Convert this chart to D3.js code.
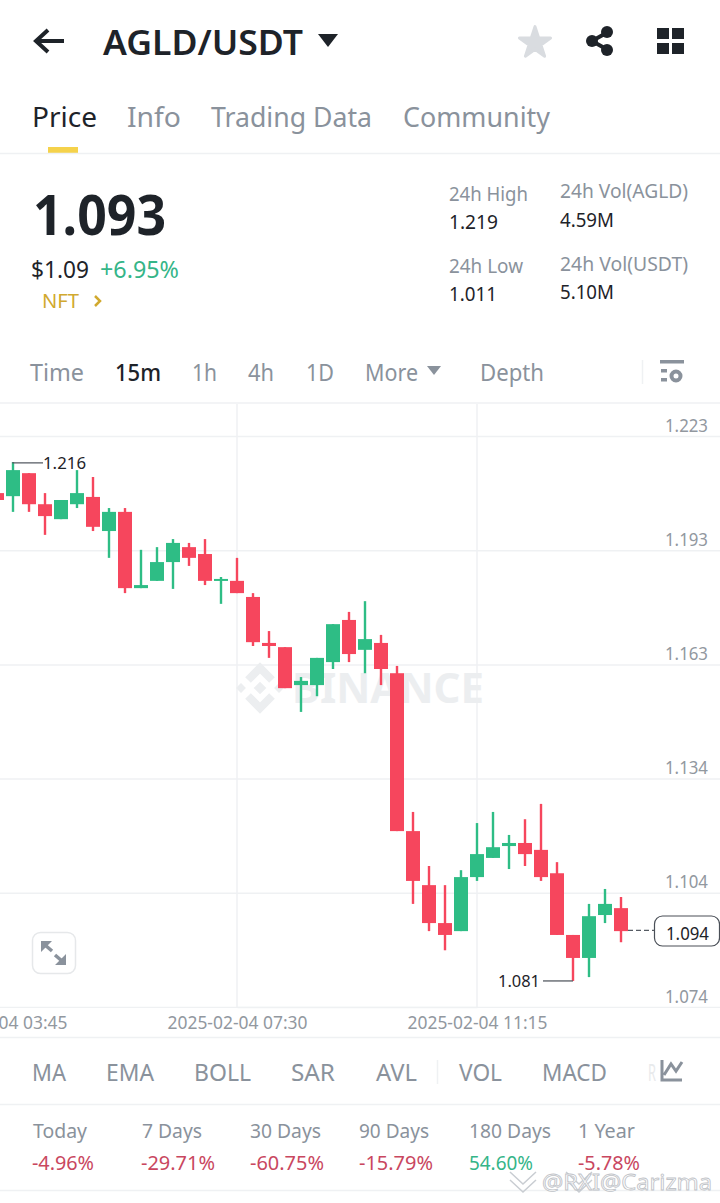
<!DOCTYPE html>
<html>
<head>
<meta charset="utf-8">
<style>
html, body { margin: 0; padding: 0; background: #fff; }
svg { display: block; }
text { font-family: "Noto Sans", sans-serif; }
</style>
<script src="https://cdn.jsdelivr.net/npm/d3@7"></script>
</head>
<body>
<div id="chart"></div>
<script>
// candles, 15m apart
const startTime = "2025-02-04T03:45:00Z";
const opens = [1.2081,1.2073,1.2133,1.2052,1.2013,1.2052,1.2071,1.1982,1.2032,1.1833,1.1852,1.1901,1.1940,1.1922,1.1852,1.1852,1.1810,1.1690,1.1679,1.1580,1.1580,1.1640,1.1750,1.1672,1.1690,1.1611,1.1199,1.1058,1.0959,1.0938,1.1079,1.1129,1.1160,1.1168,1.1150,1.1089,1.0928,1.0868,1.0980,1.0998];
const closes = [1.2063,1.2141,1.2052,1.2021,1.2063,1.2081,1.1993,1.2032,1.1833,1.1841,1.1901,1.1951,1.1912,1.1852,1.1857,1.1820,1.1692,1.1682,1.1572,1.1591,1.1651,1.1739,1.1661,1.1700,1.1622,1.1199,1.1069,1.0959,1.0928,1.1079,1.1139,1.1157,1.1168,1.1139,1.1079,1.0928,1.0868,1.0977,1.1009,1.0938];
const highs = [1.2081,1.2162,1.2133,1.2081,1.2063,1.2141,1.2123,1.2042,1.2042,1.1933,1.1940,1.1961,1.1951,1.1961,1.1862,1.1912,1.1820,1.1721,1.1679,1.1601,1.1651,1.1739,1.1771,1.1799,1.1711,1.1630,1.1249,1.1108,1.1058,1.1097,1.1220,1.1249,1.1189,1.1230,1.1270,1.1118,1.0928,1.1009,1.1048,1.1027];
const lows = [1.2063,1.2032,1.2032,1.1972,1.2013,1.2042,1.1982,1.1912,1.1820,1.1833,1.1852,1.1831,1.1891,1.1841,1.1792,1.1820,1.1682,1.1651,1.1572,1.1510,1.1551,1.1622,1.1640,1.1611,1.1580,1.1199,1.1009,1.0938,1.0888,1.0938,1.1069,1.1129,1.1100,1.1108,1.1069,1.0928,1.0808,1.0818,1.0959,1.0909];

const priceTicks = [1.223,1.1932,1.1634,1.1336,1.1038,1.074];
const timeTicks = ["2025-02-04T03:45:00Z","2025-02-04T07:30:00Z","2025-02-04T11:15:00Z"];
const lastPrice = 1.094;
const maxMark = 1.216;
const minMark = 1.081;

const navTabs = ["Price","Info","Trading Data","Community"];
const intervals = ["Time","15m","1h","4h","1D","More","Depth"];
const indicators = ["MA","EMA","BOLL","SAR","AVL","VOL","MACD"];
const periods = ["Today","7 Days","30 Days","90 Days","180 Days","1 Year"];
const periodChanges = ["-4.96%","-29.71%","-60.75%","-15.79%","54.60%","-5.78%"];

const width = 720, height = 1203;
const UP = "#2ebd85", DOWN = "#f6465d", INK = "#1e2329", GREY = "#8a929c", AXIS = "#92989f", LINE = "#eff1f3";

const svg = d3.select("#chart").append("svg").attr("width", width).attr("height", height);
svg.append("rect").attr("width", width).attr("height", height).attr("fill", "#fff");

// text helper, w = target width so the fallback font lands where the original did
function label(x, y, str, size, fill, w, weight, anchor) {
	const t = svg.append("text").attr("x", x).attr("y", y).attr("font-size", size).attr("fill", fill).text(str);
	if (w) t.attr("textLength", w).attr("lengthAdjust", "spacingAndGlyphs");
	if (weight) t.attr("font-weight", weight);
	if (anchor) t.attr("text-anchor", anchor);
	return t;
}
function hline(y) {
	svg.append("line").attr("x1", 0).attr("x2", width).attr("y1", y).attr("y2", y).attr("stroke", LINE).attr("stroke-width", 1.5);
}

// header
svg.append("path").attr("d", "M64 41H37M48 30L36 41L48 52").attr("fill", "none").attr("stroke", INK).attr("stroke-width", 4);
label(103, 55, "AGLD/USDT", 35, INK, 200, 600);
svg.append("path").attr("d", "M318 34H338L328 47Z").attr("fill", INK);
svg.append("path").attr("d", d3.symbol(d3.symbolStar, 300)()).attr("transform", "translate(535,43)")
	.attr("fill", "#d9dce0").attr("stroke", "#d9dce0").attr("stroke-width", 3).attr("stroke-linejoin", "round");
svg.append("path").attr("d", "M608 32L592 41L608 50").attr("fill", "none").attr("stroke", INK).attr("stroke-width", 4);
[[607,32],[592,41],[607,50]].forEach(d => svg.append("circle").attr("cx", d[0]).attr("cy", d[1]).attr("r", 6).attr("fill", INK));
[[657,28],[672,28],[657,43],[672,43]].forEach(d => svg.append("rect").attr("x", d[0]).attr("y", d[1]).attr("width", 12).attr("height", 11).attr("fill", INK));

const tabX = [32,127,211,403], tabW = [65,54,161,147];
navTabs.forEach((s, i) => label(tabX[i], 127, s, 28, i ? GREY : INK, tabW[i]));
svg.append("rect").attr("x", 48).attr("y", 147).attr("width", 30).attr("height", 6).attr("fill", "#f5d24b");
hline(153.5);

// price block
label(33, 235, "1.093", 56, INK, 133, 700);
label(31, 278, "$1.09", 23, INK, 58);
label(100, 278, "+6.95%", 23, "#35b588", 79);
label(42, 308, "NFT", 19, "#d1a92f", 37);
svg.append("path").attr("d", "M95 296L100 301L95 306").attr("fill", "none").attr("stroke", "#d1a92f").attr("stroke-width", 2.5);

label(449, 201, "24h High", 20, GREY, 79);
label(449, 229, "1.219", 20, INK, 49);
label(449, 273, "24h Low", 20, GREY, 74);
label(449, 301, "1.011", 20, INK, 48);
label(560, 198, "24h Vol(AGLD)", 20, GREY, 128);
label(560, 227, "4.59M", 20, INK, 54);
label(560, 271, "24h Vol(USDT)", 20, GREY, 128);
label(560, 299, "5.10M", 20, INK, 54);

// interval row
const intX = [30,115,192,248,306,365,480], intW = [54,46,25,26,28,53,64];
intervals.forEach((s, i) => label(intX[i], 381, s, 24, i === 1 ? INK : GREY, intW[i], i === 1 ? 500 : null));
svg.append("path").attr("d", "M427 366H441L434 375Z").attr("fill", GREY);
svg.append("line").attr("x1", 642.5).attr("x2", 642.5).attr("y1", 360).attr("y2", 384).attr("stroke", LINE).attr("stroke-width", 1.5);
svg.append("rect").attr("x", 660).attr("y", 360).attr("width", 24).attr("height", 3.5).attr("fill", GREY);
svg.append("rect").attr("x", 661).attr("y", 369).attr("width", 6).attr("height", 3.5).attr("fill", GREY);
svg.append("rect").attr("x", 661).attr("y", 378).attr("width", 6).attr("height", 3.5).attr("fill", GREY);
svg.append("circle").attr("cx", 676).attr("cy", 376).attr("r", 4.5).attr("fill", "none").attr("stroke", GREY).attr("stroke-width", 4);
hline(403);

// chart
const x = d3.scaleUtc()
	.domain([new Date(timeTicks[1]), new Date(timeTicks[2])])
	.range([237, 477]);
const y = d3.scaleLinear().domain([priceTicks[5], priceTicks[0]]).range([1007, 436]);
const t0 = +new Date(startTime);
const candles = opens.map((o, i) => ({
	time: new Date(t0 + i * 15 * 60000), o, c: closes[i], h: highs[i], l: lows[i]
}));

const plot = svg.append("g").attr("clip-path", "url(#plotClip)");
svg.append("clipPath").attr("id", "plotClip").append("rect").attr("x", 0).attr("y", 404).attr("width", width).attr("height", 604);

// grid via axes
const yAxis = d3.axisRight(y).tickValues(priceTicks).tickSize(width).tickFormat(d3.format(".3f"));
const yG = plot.append("g").call(yAxis);
yG.select(".domain").remove();
yG.selectAll("line").attr("stroke", LINE).attr("stroke-width", 1.5);
yG.selectAll("text").attr("x", 708).attr("dy", "-5").attr("text-anchor", "end")
	.attr("font-size", 18).attr("fill", AXIS).attr("font-family", "Noto Sans").attr("textLength", 43).attr("lengthAdjust", "spacingAndGlyphs");

const xAxis = d3.axisBottom(x).tickValues(timeTicks.map(d => new Date(d))).tickSize(0).tickFormat(d3.utcFormat("%Y-%m-%d %H:%M"));
const xG = svg.append("g").attr("transform", "translate(0,1007)").call(xAxis);
xG.select(".domain").attr("stroke", LINE).attr("stroke-width", 1.5);
xG.selectAll("text").attr("y", 22).attr("dy", 0).attr("font-size", 18).attr("fill", AXIS).attr("font-family", "Noto Sans")
	.attr("textLength", 140).attr("lengthAdjust", "spacingAndGlyphs");
plot.selectAll(".vgrid").data(timeTicks.slice(1)).enter().append("line").attr("class", "vgrid")
	.attr("x1", d => x(new Date(d))).attr("x2", d => x(new Date(d))).attr("y1", 404).attr("y2", 1007)
	.attr("stroke", LINE).attr("stroke-width", 1.5);

// watermark under the candles
const wm = plot.append("g").attr("fill", "#eceef0");
wm.append("path").attr("d", "M248 680L260 668L272 680M248 696L260 708L272 696").attr("fill", "none").attr("stroke", "#eceef0").attr("stroke-width", 8);
[[241,688,3.5],[279,688,3.5],[260,688,4.5]].forEach(d => {
	wm.append("rect").attr("x", -d[2]).attr("y", -d[2]).attr("width", d[2]*2).attr("height", d[2]*2)
		.attr("transform", `translate(${d[0]},${d[1]}) rotate(45)`);
});
wm.append("text").attr("x", 292).attr("y", 703).attr("font-size", 41).attr("font-weight", 700)
	.attr("textLength", 192).attr("lengthAdjust", "spacingAndGlyphs").text("BINANCE");

// candles
const colorOf = d => d.c >= d.o ? UP : DOWN;
plot.selectAll(".wick").data(candles).enter().append("line").attr("class", "wick")
	.attr("x1", d => x(d.time)).attr("x2", d => x(d.time))
	.attr("y1", d => y(d.h)).attr("y2", d => y(d.l))
	.attr("stroke", colorOf).attr("stroke-width", 2.4);
plot.selectAll(".body").data(candles).enter().append("rect").attr("class", "body")
	.attr("x", d => x(d.time) - 7).attr("width", 14)
	.attr("y", d => y(Math.max(d.o, d.c)))
	.attr("height", d => Math.max(2, Math.abs(y(d.o) - y(d.c))))
	.attr("fill", colorOf);

// high / low markers
const hiCandle = candles[highs.indexOf(d3.max(highs))];
const loCandle = candles[lows.indexOf(d3.min(lows))];
svg.append("path").attr("d", `M${x(hiCandle.time)} ${y(hiCandle.h)}V${y(maxMark)}H43`).attr("fill", "none").attr("stroke", "#555b63").attr("stroke-width", 1.3);
label(43, y(maxMark) + 6, d3.format(".3f")(maxMark), 17, INK, 43);
svg.append("path").attr("d", `M${x(loCandle.time)} ${y(loCandle.l)}H543`).attr("fill", "none").attr("stroke", "#555b63").attr("stroke-width", 1.3);
label(498, y(minMark) + 7, d3.format(".3f")(minMark), 17, INK, 42);

// last price tag
svg.append("line").attr("x1", x(candles[39].time) + 7).attr("x2", 654).attr("y1", y(lastPrice)).attr("y2", y(lastPrice))
	.attr("stroke", "#555b63").attr("stroke-width", 1.2).attr("stroke-dasharray", "5 3");
svg.append("rect").attr("x", 654.5).attr("y", 916).attr("width", 65).attr("height", 30).attr("rx", 8).attr("fill", "#fff").attr("stroke", "#4a4f57").attr("stroke-width", 1.2);
label(666, 940, d3.format(".3f")(lastPrice), 18, INK, 43);

// expand button
svg.append("rect").attr("x", 32.5).attr("y", 932.5).attr("width", 43).attr("height", 41).attr("rx", 8).attr("fill", "#fff").attr("stroke", "#e6e8ea").attr("stroke-width", 1.5);
svg.append("path").attr("d", "M41 941H52L41 952ZM66 965H55L66 954Z").attr("fill", GREY);
svg.append("path").attr("d", "M45 945L52 951M62 961L55 955").attr("fill", "none").attr("stroke", GREY).attr("stroke-width", 3.5);

hline(1037.5);

// indicator row
const indX = [32,106,194,291,376,459,542], indW = [34,48,57,44,41,43,65];
indicators.forEach((s, i) => label(indX[i], 1081, s, 24, GREY, indW[i]));
svg.append("line").attr("x1", 437.5).attr("x2", 437.5).attr("y1", 1060).attr("y2", 1084).attr("stroke", LINE).attr("stroke-width", 1.5);
label(648, 1081, "R", 24, "#e8eaec", 8);
svg.append("path").attr("d", "M662 1060V1080H682M664 1075L671 1064L676 1071L682 1062").attr("fill", "none").attr("stroke", GREY).attr("stroke-width", 3);
hline(1104.5);

// period returns
const perX = [33,142,250,359,469,578], perW = [54,60,71,70,82,57], chgW = [62,74,74,74,64,62];
const perChgX = [32,141,250,359,469,578];
periods.forEach((s, i) => label(perX[i], 1138, s, 20, GREY, perW[i]));
periodChanges.forEach((s, i) => label(perChgX[i], 1170, s, 20, s[0] === "-" ? "#c9475f" : "#35b588", chgW[i]));
hline(1190.5);

// site watermark, bottom right
[[510,1172],[510,1180],[566,1172],[566,1180]].forEach(d => {
	svg.append("path").attr("d", `M${d[0]} ${d[1]}L${d[0] + 13} ${d[1] + 12}L${d[0] + 26} ${d[1]}`).attr("fill", "none").attr("stroke", "#c9cdd2").attr("stroke-width", 1.5);
});
label(542, 1190, "@RXI@Carizma", 21, "#fff", 170).attr("stroke", "#bfc3c8").attr("stroke-width", 0.8);
</script>
</body>
</html>
